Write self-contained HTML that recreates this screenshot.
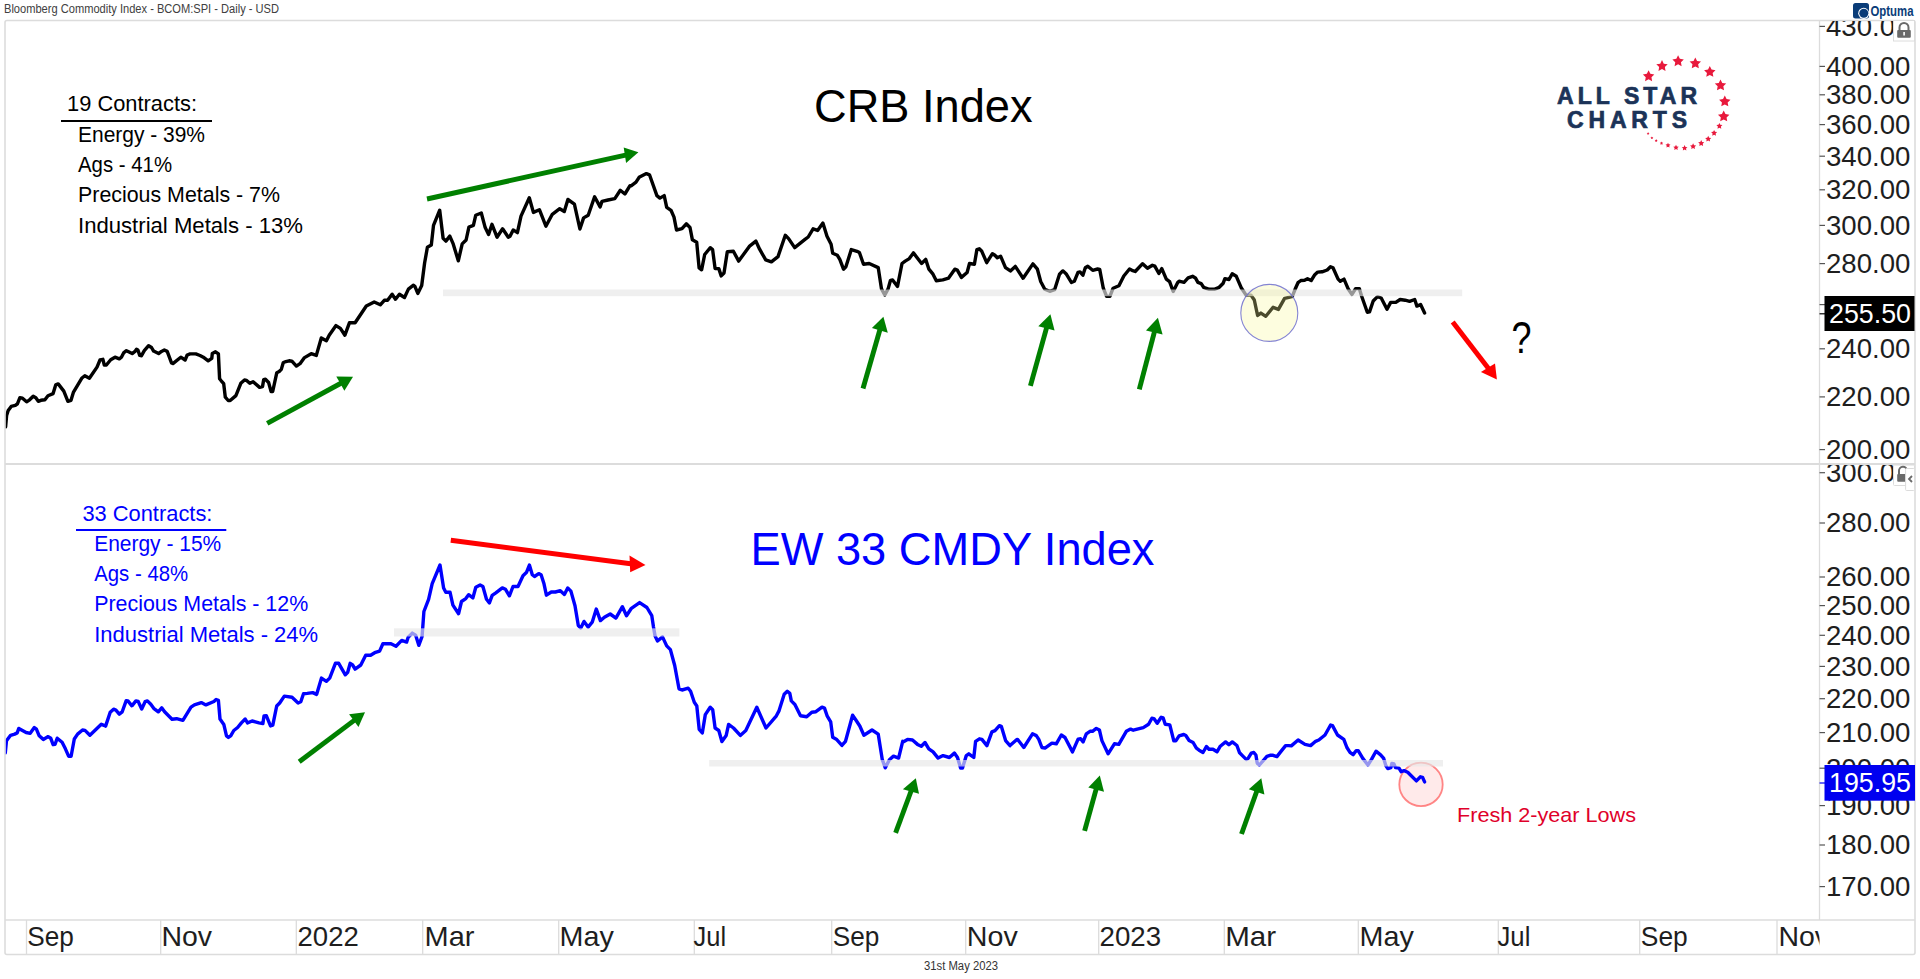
<!DOCTYPE html>
<html><head><meta charset="utf-8"><title>CRB vs EW 33 CMDY</title>
<style>
html,body{margin:0;padding:0;background:#fff;width:1920px;height:979px;overflow:hidden;}
svg text{font-family:"Liberation Sans", sans-serif;}
</style></head><body>
<svg width="1920" height="979" viewBox="0 0 1920 979" style="position:absolute;left:0;top:0;font-family:"Liberation Sans", sans-serif">
<rect width="1920" height="979" fill="#fff"/>
<text x="4" y="13" font-size="12" fill="#404040" textLength="275" lengthAdjust="spacingAndGlyphs">Bloomberg Commodity Index - BCOM:SPI - Daily - USD</text>
<rect x="5" y="20.5" width="1910" height="934" rx="2" fill="none" stroke="#dcdcdc" stroke-width="1.6"/>
<line x1="1819.5" y1="20" x2="1819.5" y2="920" stroke="#dcdcdc" stroke-width="1.3"/>
<line x1="5" y1="464" x2="1915" y2="464" stroke="#dcdcdc" stroke-width="2"/>
<line x1="5" y1="920" x2="1915" y2="920" stroke="#dcdcdc" stroke-width="1.6"/>
<line x1="26.5" y1="920" x2="26.5" y2="954" stroke="#dcdcdc" stroke-width="1.3"/>
<line x1="160.7" y1="920" x2="160.7" y2="954" stroke="#dcdcdc" stroke-width="1.3"/>
<line x1="296.3" y1="920" x2="296.3" y2="954" stroke="#dcdcdc" stroke-width="1.3"/>
<line x1="422.7" y1="920" x2="422.7" y2="954" stroke="#dcdcdc" stroke-width="1.3"/>
<line x1="558.7" y1="920" x2="558.7" y2="954" stroke="#dcdcdc" stroke-width="1.3"/>
<line x1="694.3" y1="920" x2="694.3" y2="954" stroke="#dcdcdc" stroke-width="1.3"/>
<line x1="831.7" y1="920" x2="831.7" y2="954" stroke="#dcdcdc" stroke-width="1.3"/>
<line x1="965.7" y1="920" x2="965.7" y2="954" stroke="#dcdcdc" stroke-width="1.3"/>
<line x1="1098.7" y1="920" x2="1098.7" y2="954" stroke="#dcdcdc" stroke-width="1.3"/>
<line x1="1224.3" y1="920" x2="1224.3" y2="954" stroke="#dcdcdc" stroke-width="1.3"/>
<line x1="1358.3" y1="920" x2="1358.3" y2="954" stroke="#dcdcdc" stroke-width="1.3"/>
<line x1="1498.3" y1="920" x2="1498.3" y2="954" stroke="#dcdcdc" stroke-width="1.3"/>
<line x1="1639.7" y1="920" x2="1639.7" y2="954" stroke="#dcdcdc" stroke-width="1.3"/>
<line x1="1777" y1="920" x2="1777" y2="954" stroke="#dcdcdc" stroke-width="1.3"/>
<svg x="0" y="920" width="1819.5" height="40" overflow="hidden"><g>
<text x="27.2" y="26.2" font-size="27.2" fill="#1e1e1e" textLength="46.6" lengthAdjust="spacingAndGlyphs">Sep</text>
<text x="161.5" y="26.2" font-size="27.2" fill="#1e1e1e" textLength="50.6" lengthAdjust="spacingAndGlyphs">Nov</text>
<text x="297.5" y="26.2" font-size="27.2" fill="#1e1e1e" textLength="61.300000000000004" lengthAdjust="spacingAndGlyphs">2022</text>
<text x="424.5" y="26.2" font-size="27.2" fill="#1e1e1e" textLength="49.9" lengthAdjust="spacingAndGlyphs">Mar</text>
<text x="559.5" y="26.2" font-size="27.2" fill="#1e1e1e" textLength="54.300000000000004" lengthAdjust="spacingAndGlyphs">May</text>
<text x="693.5" y="26.2" font-size="27.2" fill="#1e1e1e" textLength="32.6" lengthAdjust="spacingAndGlyphs">Jul</text>
<text x="832.8" y="26.2" font-size="27.2" fill="#1e1e1e" textLength="46.6" lengthAdjust="spacingAndGlyphs">Sep</text>
<text x="966.8" y="26.2" font-size="27.2" fill="#1e1e1e" textLength="50.9" lengthAdjust="spacingAndGlyphs">Nov</text>
<text x="1099.5" y="26.2" font-size="27.2" fill="#1e1e1e" textLength="61.6" lengthAdjust="spacingAndGlyphs">2023</text>
<text x="1225.2" y="26.2" font-size="27.2" fill="#1e1e1e" textLength="50.9" lengthAdjust="spacingAndGlyphs">Mar</text>
<text x="1359.5" y="26.2" font-size="27.2" fill="#1e1e1e" textLength="54.300000000000004" lengthAdjust="spacingAndGlyphs">May</text>
<text x="1497.5" y="26.2" font-size="27.2" fill="#1e1e1e" textLength="32.9" lengthAdjust="spacingAndGlyphs">Jul</text>
<text x="1640.8" y="26.2" font-size="27.2" fill="#1e1e1e" textLength="46.9" lengthAdjust="spacingAndGlyphs">Sep</text>
<text x="1778.5" y="26.2" font-size="27.2" fill="#1e1e1e" textLength="50.6" lengthAdjust="spacingAndGlyphs">Nov</text>
</g></svg>
<text x="924" y="970" font-size="12" fill="#333" textLength="74" lengthAdjust="spacingAndGlyphs">31st May 2023</text>
<svg x="1819" y="21" width="96" height="442" overflow="hidden">
<line x1="0.5" y1="5.4" x2="6" y2="5.4" stroke="#555" stroke-width="1.2"/>
<text x="7" y="14.8" font-size="27.6" fill="#1e1e1e">430.00</text>
<line x1="0.5" y1="45.4" x2="6" y2="45.4" stroke="#555" stroke-width="1.2"/>
<text x="7" y="54.8" font-size="27.6" fill="#1e1e1e">400.00</text>
<line x1="0.5" y1="73.8" x2="6" y2="73.8" stroke="#555" stroke-width="1.2"/>
<text x="7" y="83.2" font-size="27.6" fill="#1e1e1e">380.00</text>
<line x1="0.5" y1="103.6" x2="6" y2="103.6" stroke="#555" stroke-width="1.2"/>
<text x="7" y="113.0" font-size="27.6" fill="#1e1e1e">360.00</text>
<line x1="0.5" y1="135.2" x2="6" y2="135.2" stroke="#555" stroke-width="1.2"/>
<text x="7" y="144.6" font-size="27.6" fill="#1e1e1e">340.00</text>
<line x1="0.5" y1="168.8" x2="6" y2="168.8" stroke="#555" stroke-width="1.2"/>
<text x="7" y="178.2" font-size="27.6" fill="#1e1e1e">320.00</text>
<line x1="0.5" y1="204.4" x2="6" y2="204.4" stroke="#555" stroke-width="1.2"/>
<text x="7" y="213.8" font-size="27.6" fill="#1e1e1e">300.00</text>
<line x1="0.5" y1="242.6" x2="6" y2="242.6" stroke="#555" stroke-width="1.2"/>
<text x="7" y="252.0" font-size="27.6" fill="#1e1e1e">280.00</text>
<line x1="0.5" y1="283.6" x2="6" y2="283.6" stroke="#555" stroke-width="1.2"/>
<line x1="0.5" y1="327.8" x2="6" y2="327.8" stroke="#555" stroke-width="1.2"/>
<text x="7" y="337.2" font-size="27.6" fill="#1e1e1e">240.00</text>
<line x1="0.5" y1="375.9" x2="6" y2="375.9" stroke="#555" stroke-width="1.2"/>
<text x="7" y="385.3" font-size="27.6" fill="#1e1e1e">220.00</text>
<line x1="0.5" y1="428.6" x2="6" y2="428.6" stroke="#555" stroke-width="1.2"/>
<text x="7" y="438.0" font-size="27.6" fill="#1e1e1e">200.00</text>
</svg>
<svg x="1819" y="465" width="96" height="454" overflow="hidden">
<line x1="0.5" y1="7.7" x2="6" y2="7.7" stroke="#555" stroke-width="1.2"/>
<text x="7" y="17.1" font-size="27.6" fill="#1e1e1e">300.00</text>
<line x1="0.5" y1="58.0" x2="6" y2="58.0" stroke="#555" stroke-width="1.2"/>
<text x="7" y="67.4" font-size="27.6" fill="#1e1e1e">280.00</text>
<line x1="0.5" y1="112.0" x2="6" y2="112.0" stroke="#555" stroke-width="1.2"/>
<text x="7" y="121.4" font-size="27.6" fill="#1e1e1e">260.00</text>
<line x1="0.5" y1="140.6" x2="6" y2="140.6" stroke="#555" stroke-width="1.2"/>
<text x="7" y="150.0" font-size="27.6" fill="#1e1e1e">250.00</text>
<line x1="0.5" y1="170.3" x2="6" y2="170.3" stroke="#555" stroke-width="1.2"/>
<text x="7" y="179.7" font-size="27.6" fill="#1e1e1e">240.00</text>
<line x1="0.5" y1="201.4" x2="6" y2="201.4" stroke="#555" stroke-width="1.2"/>
<text x="7" y="210.8" font-size="27.6" fill="#1e1e1e">230.00</text>
<line x1="0.5" y1="233.7" x2="6" y2="233.7" stroke="#555" stroke-width="1.2"/>
<text x="7" y="243.1" font-size="27.6" fill="#1e1e1e">220.00</text>
<line x1="0.5" y1="267.6" x2="6" y2="267.6" stroke="#555" stroke-width="1.2"/>
<text x="7" y="277.0" font-size="27.6" fill="#1e1e1e">210.00</text>
<line x1="0.5" y1="303.2" x2="6" y2="303.2" stroke="#555" stroke-width="1.2"/>
<text x="7" y="312.6" font-size="27.6" fill="#1e1e1e">200.00</text>
<line x1="0.5" y1="340.6" x2="6" y2="340.6" stroke="#555" stroke-width="1.2"/>
<text x="7" y="350.0" font-size="27.6" fill="#1e1e1e">190.00</text>
<line x1="0.5" y1="380.0" x2="6" y2="380.0" stroke="#555" stroke-width="1.2"/>
<text x="7" y="389.4" font-size="27.6" fill="#1e1e1e">180.00</text>
<line x1="0.5" y1="421.6" x2="6" y2="421.6" stroke="#555" stroke-width="1.2"/>
<text x="7" y="431.0" font-size="27.6" fill="#1e1e1e">170.00</text>
</svg>
<rect x="1824.5" y="296" width="90" height="35" fill="#000"/>
<line x1="1819.5" y1="313.8" x2="1825" y2="313.8" stroke="#000" stroke-width="1.2"/>
<text x="1829" y="323" font-size="26.8" fill="#fff">255.50</text>
<rect x="1824.5" y="765" width="90.5" height="35.7" fill="#0000f0"/>
<line x1="1819.5" y1="783" x2="1825" y2="783" stroke="#0000f0" stroke-width="1.2"/>
<text x="1829" y="792.2" font-size="26.8" fill="#fff">195.95</text>
<rect x="1893.5" y="20.5" width="21" height="20.5" fill="#fff" stroke="#dcdcdc" stroke-width="1"/>
<path d="M1899.5,30 v-2.5 a4.5,4.5 0 0 1 9,0 v2.5" fill="none" stroke="#6a6a6a" stroke-width="2"/>
<rect x="1897.2" y="30" width="13.6" height="7.8" rx="1" fill="#6a6a6a"/>
<rect x="1903.3" y="32" width="1.6" height="3.5" fill="#fff"/>
<rect x="1893.5" y="465" width="21" height="20.5" rx="1" fill="#fff" stroke="#dcdcdc" stroke-width="1"/>
<path d="M1899,474 v-3 a4,4 0 0 1 8,-0.5" fill="none" stroke="#6a6a6a" stroke-width="2"/>
<rect x="1897.2" y="474" width="9" height="7.8" rx="1" fill="#6a6a6a"/>
<rect x="1905.6" y="468.5" width="9" height="22" rx="1" fill="#fff" stroke="#dcdcdc" stroke-width="1"/>
<path d="M1912,476 l-3,3 l3,3" fill="none" stroke="#6a6a6a" stroke-width="1.8"/>
<rect x="1853" y="3" width="16" height="15.6" rx="2.5" fill="#0a3c78"/>
<circle cx="1863.8" cy="13.3" r="5.6" fill="#fff"/>
<circle cx="1863.8" cy="13.3" r="4.5" fill="#0a3c78"/>
<path d="M1869,13.3 A5.6,5.6 0 0 0 1866,8.2 L1869,8.2 Z" fill="#0a3c78"/>
<text x="1870.5" y="16" font-size="15" font-weight="bold" fill="#0a3c78" textLength="43" lengthAdjust="spacingAndGlyphs">Optuma</text>
<defs><clipPath id="cp"><rect x="5.8" y="21" width="1813.2" height="898"/></clipPath></defs>
<g clip-path="url(#cp)">
<path d="M5.6,426.8 L6.6,415.6 L8.2,410.5 L11.2,406.4 L15.3,405.4 L17.4,403.8 L19.9,397.7 L22.5,398.2 L26.6,401.8 L29.6,399.8 L33.2,396.2 L35.8,397.7 L38.3,401.3 L40.9,400.3 L44.9,399.8 L48.0,395.7 L53.1,393.6 L55.7,384.9 L58.2,383.9 L63.8,391.1 L67.9,401.3 L71.0,400.3 L73.5,392.1 L81.7,378.3 L84.8,375.8 L89.4,378.3 L97.0,367.1 L100.0,360.0 L102.9,359.3 L104.3,365.0 L106.4,365.0 L110.7,359.7 L115.0,357.2 L119.3,358.9 L121.4,357.2 L123.6,352.9 L126.4,350.7 L128.6,351.8 L132.2,353.6 L135.0,351.4 L136.5,349.3 L137.9,350.0 L139.7,355.4 L141.5,355.7 L144.3,350.7 L148.6,345.7 L151.5,347.5 L153.6,351.1 L158.6,353.6 L161.5,351.4 L164.3,350.0 L167.2,351.4 L171.5,362.9 L172.9,363.6 L180.8,357.2 L185.1,360.0 L187.2,355.0 L190.1,353.9 L195.8,353.9 L200.0,355.5 L203.3,357.2 L208.2,360.8 L211.8,358.4 L212.3,353.5 L215.5,351.8 L218.4,353.9 L219.6,378.8 L221.2,380.8 L223.7,383.7 L225.3,397.2 L228.2,400.5 L230.2,400.5 L235.9,395.6 L240.8,383.3 L244.5,380.0 L246.6,380.4 L249.8,383.3 L253.1,381.7 L259.6,387.4 L262.5,386.6 L263.7,379.6 L265.4,379.2 L268.6,382.5 L271.1,391.5 L272.7,391.5 L276.8,372.7 L279.2,371.5 L281.3,369.4 L283.3,362.5 L285.8,361.7 L289.1,360.8 L291.9,361.2 L296.4,366.1 L300.0,363.7 L304.5,357.6 L311.2,353.7 L316.3,355.4 L321.3,338.0 L326.4,340.8 L329.2,335.2 L336.0,325.6 L340.4,328.4 L344.9,335.2 L349.4,322.8 L355.1,322.8 L366.3,306.0 L374.2,302.0 L380.3,304.8 L384.3,300.3 L387.6,300.3 L392.1,294.2 L395.5,299.2 L399.4,294.2 L404.5,297.5 L408.4,289.1 L413.5,285.2 L415.0,286.6 L417.8,293.4 L421.7,285.5 L424.6,263.0 L427.4,247.3 L431.3,245.1 L433.5,225.4 L439.7,210.2 L443.1,238.3 L445.9,241.1 L449.8,236.1 L453.2,243.9 L458.3,260.8 L462.2,243.9 L466.1,240.0 L468.9,227.1 L473.4,225.4 L475.7,215.3 L481.3,213.0 L485.2,227.6 L488.6,234.4 L492.0,224.3 L497.0,237.2 L502.6,228.8 L508.3,237.2 L510.0,236.3 L513.2,229.9 L517.4,232.6 L521.0,216.1 L529.3,197.7 L533.4,212.4 L539.4,209.7 L545.9,226.2 L552.3,214.3 L559.7,208.7 L564.3,211.5 L567.9,199.5 L574.4,204.1 L579.9,229.0 L583.6,217.9 L588.2,215.2 L594.6,196.8 L600.1,206.9 L602.0,201.4 L608.0,200.0 L614.8,198.6 L620.3,190.3 L624.9,194.0 L630.0,185.7 L631.1,185.8 L636.0,182.2 L639.1,177.3 L646.4,173.6 L649.5,174.8 L656.9,195.6 L659.9,198.1 L664.2,195.6 L666.7,207.3 L671.0,210.3 L674.0,217.1 L676.5,230.0 L682.0,228.7 L686.3,223.8 L690.0,227.5 L692.4,239.8 L696.7,242.2 L699.1,267.9 L701.6,269.8 L704.7,254.5 L710.2,247.7 L712.6,249.6 L715.1,268.6 L718.8,268.6 L721.2,275.9 L724.0,273.0 L727.3,251.7 L733.4,251.3 L738.7,261.1 L749.3,246.4 L755.9,241.1 L759.6,249.2 L765.7,259.9 L771.4,261.9 L778.0,256.6 L785.3,235.3 L788.6,238.6 L794.7,247.6 L805.0,239.4 L808.2,237.0 L813.1,228.8 L817.6,230.4 L822.9,223.1 L827.0,236.2 L831.1,244.3 L832.7,253.3 L837.4,255.3 L839.8,259.4 L843.5,269.2 L845.9,266.8 L851.3,249.6 L857.0,251.3 L859.4,252.5 L863.5,264.3 L869.2,263.5 L878.2,267.6 L881.5,288.9 L884.8,295.0 L888.1,288.9 L890.5,280.3 L892.6,279.9 L897.5,286.4 L902.0,263.5 L905.2,261.1 L909.3,258.6 L913.4,252.9 L921.6,263.5 L925.7,259.4 L928.9,269.2 L933.0,274.2 L936.3,280.7 L942.8,279.9 L948.6,278.2 L949.3,277.0 L954.8,269.2 L957.3,270.1 L961.4,277.4 L967.1,272.5 L969.5,263.5 L974.4,264.3 L976.9,249.6 L979.3,248.8 L981.8,251.3 L986.7,262.7 L992.4,253.7 L994.9,255.3 L997.3,257.8 L1000.6,256.2 L1005.5,267.6 L1010.4,270.9 L1015.3,266.4 L1023.1,278.2 L1032.9,263.9 L1037.4,269.2 L1040.7,281.5 L1044.8,289.3 L1049.7,291.3 L1054.6,289.7 L1059.5,274.2 L1062.7,270.9 L1063.3,271.1 L1066.5,274.3 L1071.4,282.5 L1074.3,281.3 L1078.0,272.3 L1080.0,271.9 L1082.9,275.2 L1085.3,267.8 L1087.8,266.2 L1092.7,270.3 L1097.6,269.0 L1099.7,269.4 L1103.3,288.2 L1106.6,296.4 L1109.9,296.4 L1113.1,288.2 L1118.9,285.8 L1123.8,276.0 L1129.5,269.0 L1132.0,270.3 L1135.2,271.5 L1142.6,263.7 L1147.5,268.2 L1152.4,265.3 L1154.8,266.2 L1158.9,273.5 L1161.8,268.6 L1166.3,279.2 L1169.6,281.7 L1173.2,291.5 L1177.7,282.5 L1179.1,281.2 L1184.0,282.4 L1188.1,277.9 L1192.6,276.3 L1195.4,277.9 L1197.9,282.4 L1201.2,283.6 L1203.6,287.3 L1209.3,289.3 L1214.2,289.3 L1219.2,287.3 L1223.2,283.2 L1224.9,278.7 L1229.0,279.5 L1232.2,273.8 L1236.3,276.3 L1241.2,287.7 L1246.1,295.1 L1251.0,295.1 L1254.3,300.0 L1257.6,315.5 L1260.9,313.1 L1265.8,316.3 L1273.1,307.3 L1278.4,309.4 L1284.6,298.3 L1291.9,296.7 L1292.2,296.6 L1295.1,289.3 L1298.0,282.7 L1300.9,280.5 L1304.6,280.2 L1307.5,278.7 L1311.2,280.5 L1314.8,274.7 L1317.7,272.1 L1322.1,271.8 L1327.2,270.0 L1330.5,266.7 L1333.0,267.8 L1338.1,279.1 L1340.3,281.3 L1344.0,279.1 L1348.4,289.3 L1352.0,294.4 L1355.6,288.6 L1359.3,288.6 L1361.5,295.8 L1367.3,312.3 L1369.5,311.9 L1373.2,301.0 L1377.5,296.6 L1381.2,298.0 L1387.0,309.3 L1390.7,302.4 L1395.8,302.4 L1400.1,299.5 L1405.2,300.2 L1409.6,301.3 L1414.7,299.5 L1416.9,306.1 L1420.6,304.6 L1424.6,313.0" fill="none" stroke="#000" stroke-width="3.4" stroke-linejoin="round" stroke-linecap="round"/>
<rect x="443" y="289.5" width="1019.2" height="6.7" fill="rgba(230,230,230,0.65)"/>
<circle cx="1269.3" cy="312.9" r="28.5" fill="rgba(250,250,150,0.3)" stroke="rgba(110,110,205,0.85)" stroke-width="1.1"/>
<circle cx="1421" cy="784.4" r="21.7" fill="rgba(255,150,150,0.2)" stroke="rgba(255,80,80,0.68)" stroke-width="1.8"/>
<path d="M5.3,752.9 L6.5,740.7 L10.6,735.3 L14.7,734.1 L17.2,732.9 L18.8,728.4 L26.1,732.5 L30.2,733.3 L34.3,727.6 L36.4,729.2 L39.2,735.8 L43.3,739.4 L48.2,736.6 L50.7,738.2 L53.1,744.7 L55.1,744.3 L57.2,738.2 L62.1,742.3 L65.4,748.8 L68.6,756.2 L71.1,756.2 L74.3,739.0 L77.6,734.1 L82.5,730.0 L85.0,730.4 L89.9,735.3 L101.3,724.3 L105.4,725.9 L105.6,726.1 L110.2,712.3 L113.6,709.2 L115.9,710.1 L119.3,714.1 L122.2,711.8 L126.2,700.6 L127.9,700.9 L131.9,705.8 L135.9,700.9 L138.2,701.5 L141.7,708.9 L145.1,701.7 L147.4,700.9 L150.8,704.3 L153.7,708.3 L158.3,711.8 L161.7,707.8 L164.6,711.8 L172.0,719.2 L176.6,718.7 L182.9,720.4 L191.0,707.2 L194.4,704.9 L201.3,702.6 L205.9,704.9 L213.9,701.5 L216.1,699.5 L218.4,700.3 L220.0,719.0 L223.8,724.4 L226.5,735.9 L228.4,737.4 L230.7,735.9 L233.8,730.5 L237.6,727.5 L241.4,722.9 L245.2,719.0 L247.5,722.9 L252.1,721.0 L259.0,722.9 L262.9,723.6 L264.0,716.0 L266.3,715.6 L270.5,725.9 L272.8,725.2 L276.7,706.0 L279.7,703.0 L284.3,696.1 L292.0,697.2 L298.1,703.0 L300.8,701.8 L303.5,693.8 L307.3,693.4 L312.7,692.6 L316.6,694.4 L321.5,678.1 L326.4,681.3 L329.7,678.1 L335.4,663.3 L338.7,663.3 L345.3,674.8 L347.7,672.3 L350.2,663.3 L352.6,665.0 L355.1,669.1 L360.8,665.0 L365.7,655.2 L370.6,655.2 L374.7,652.7 L379.6,651.1 L382.9,643.7 L391.0,643.7 L396.0,646.2 L401.7,640.4 L406.6,642.1 L408.2,637.2 L412.3,633.1 L415.6,635.1 L418.8,645.3 L422.1,636.4 L423.9,611.5 L428.6,599.3 L432.2,583.6 L434.3,578.6 L440.0,565.0 L443.6,587.9 L445.8,592.2 L450.0,592.2 L452.9,605.1 L458.6,613.7 L461.5,601.5 L465.8,598.6 L468.6,594.7 L472.9,597.9 L475.8,587.2 L480.1,585.0 L482.9,586.5 L486.5,599.3 L489.4,602.9 L492.2,595.4 L495.8,592.9 L502.3,587.9 L505.5,589.3 L509.4,595.8 L513.0,586.5 L518.0,586.5 L523.0,575.7 L526.6,572.2 L529.4,565.0 L532.3,574.7 L534.5,576.5 L538.7,573.6 L541.1,574.8 L544.0,583.8 L546.4,595.2 L551.3,592.0 L555.4,592.0 L560.3,590.7 L564.4,594.4 L567.7,587.9 L570.9,591.1 L575.0,605.8 L578.3,625.5 L580.8,627.9 L584.0,621.4 L588.1,627.1 L592.2,622.2 L596.3,609.1 L600.4,620.6 L604.4,617.3 L610.2,614.0 L615.9,618.1 L622.4,606.7 L626.5,615.7 L631.4,608.3 L639.6,602.6 L646.9,607.5 L651.8,615.7 L653.5,627.1 L655.1,636.1 L657.5,641.0 L662.5,636.9 L666.7,645.9 L670.4,649.6 L674.7,665.5 L679.0,688.8 L682.1,690.0 L688.2,688.2 L690.6,691.3 L694.3,702.3 L696.8,706.0 L699.2,729.3 L702.3,732.9 L705.3,714.6 L710.2,707.2 L712.7,709.7 L715.1,728.0 L718.8,730.5 L721.9,741.5 L726.2,735.4 L728.6,724.4 L733.5,728.0 L740.3,735.4 L745.8,730.5 L756.8,707.2 L766.0,728.0 L776.4,715.8 L779.1,710.6 L784.2,694.3 L787.3,691.2 L789.8,693.3 L791.3,700.9 L794.9,704.5 L800.5,715.8 L806.7,716.8 L811.8,712.2 L815.9,711.7 L822.0,707.1 L824.5,708.1 L827.1,715.8 L830.7,721.9 L832.7,737.2 L836.3,739.2 L841.9,745.4 L845.5,741.3 L852.6,715.2 L855.7,719.8 L859.8,726.0 L863.9,735.2 L872.0,730.0 L878.2,734.1 L882.3,759.7 L885.3,767.8 L889.4,759.7 L893.5,756.1 L898.6,758.1 L902.7,741.3 L903.1,741.9 L907.5,739.4 L912.5,740.0 L917.5,744.4 L921.3,746.3 L925.0,742.5 L928.8,748.8 L933.1,751.9 L938.1,758.1 L943.1,755.6 L949.4,757.5 L954.4,753.1 L957.5,757.5 L960.6,768.1 L962.5,768.1 L966.3,755.6 L968.8,753.8 L973.8,757.5 L975.6,741.3 L979.4,738.8 L981.9,739.4 L986.9,745.6 L991.9,731.9 L995.0,730.6 L999.4,725.6 L1001.3,726.3 L1005.6,740.6 L1010.0,745.6 L1016.9,739.4 L1017.5,739.4 L1020.0,742.5 L1023.8,747.5 L1032.5,733.8 L1036.3,735.6 L1038.8,739.4 L1041.9,747.5 L1045.0,748.1 L1051.9,743.1 L1056.3,743.8 L1061.3,735.0 L1065.0,737.5 L1072.5,751.9 L1078.1,739.1 L1080.6,738.8 L1083.1,741.9 L1086.3,733.8 L1090.0,731.3 L1092.5,731.3 L1096.3,728.4 L1099.4,730.0 L1101.9,740.6 L1108.1,753.8 L1114.4,743.8 L1118.8,744.4 L1126.3,731.3 L1130.6,729.1 L1133.3,730.2 L1143.3,727.6 L1148.6,724.3 L1151.9,718.3 L1153.9,718.6 L1157.2,723.3 L1161.2,717.3 L1163.2,717.9 L1165.2,724.3 L1169.8,724.9 L1173.8,740.9 L1175.8,740.9 L1179.1,735.9 L1183.8,734.5 L1185.8,735.5 L1189.1,740.5 L1193.1,742.5 L1196.4,748.2 L1199.1,750.2 L1203.0,752.5 L1206.4,746.5 L1209.0,749.2 L1213.0,749.2 L1217.0,751.8 L1220.3,746.2 L1225.6,741.9 L1228.9,744.8 L1232.3,741.9 L1236.9,745.5 L1239.6,752.8 L1242.9,756.1 L1246.2,759.4 L1248.1,758.4 L1251.3,753.1 L1253.8,752.5 L1255.9,755.0 L1257.2,763.1 L1259.4,765.0 L1266.9,756.3 L1270.0,755.3 L1273.1,755.3 L1276.9,756.6 L1280.6,751.9 L1285.6,745.6 L1288.8,745.6 L1291.3,745.9 L1298.1,740.0 L1305.0,744.4 L1310.6,745.6 L1315.6,741.3 L1318.8,740.0 L1325.0,735.0 L1330.6,725.0 L1332.5,725.6 L1337.5,735.0 L1343.8,739.4 L1346.9,747.5 L1350.0,752.3 L1353.1,754.6 L1356.1,750.7 L1358.2,750.7 L1362.8,758.4 L1367.9,765.0 L1371.5,759.4 L1376.0,751.2 L1380.6,754.8 L1383.7,758.4 L1385.8,765.5 L1387.8,768.6 L1390.9,767.6 L1391.9,763.5 L1393.9,764.0 L1395.5,767.6 L1399.0,768.1 L1401.1,771.7 L1404.1,770.6 L1407.7,772.2 L1416.4,780.9 L1420.5,776.8 L1422.5,777.3 L1424.6,781.9" fill="none" stroke="#0000ff" stroke-width="3.4" stroke-linejoin="round" stroke-linecap="round"/>
<rect x="394" y="628.3" width="285.4" height="8.2" fill="rgba(230,230,230,0.65)"/>
<rect x="709.2" y="760" width="733.8" height="6.5" fill="rgba(230,230,230,0.65)"/>
</g>
<line x1="267.2" y1="423.4" x2="344.1" y2="381.5" stroke="#008000" stroke-width="4.9"/>
<polygon points="353,376.8 336.3,376.4 344.4,390.7" fill="#008000"/>
<line x1="427" y1="199" x2="629.0" y2="154.3" stroke="#008000" stroke-width="4.9"/>
<polygon points="638.4,152.3 623.7,147.4 626.1,162.9" fill="#008000"/>
<line x1="863" y1="388.5" x2="880.9" y2="326.3" stroke="#008000" stroke-width="4.9"/>
<polygon points="883.4,316.8 871.9,328 887.8,332.8" fill="#008000"/>
<line x1="1030.4" y1="385.9" x2="1047.6" y2="324.1" stroke="#008000" stroke-width="4.9"/>
<polygon points="1050.4,314.2 1038.3,326.2 1054.6,330.5" fill="#008000"/>
<line x1="1139.3" y1="389.4" x2="1155.4" y2="328.1" stroke="#008000" stroke-width="4.9"/>
<polygon points="1157.9,317.7 1146,330.5 1162.6,334.5" fill="#008000"/>
<line x1="1452.7" y1="321.9" x2="1490.6" y2="371.3" stroke="#ff0000" stroke-width="4.9"/>
<polygon points="1496.9,379.5 1480.9,372.1 1495,363.6" fill="#ff0000"/>
<line x1="299.2" y1="761.7" x2="357.2" y2="718.1" stroke="#008000" stroke-width="4.9"/>
<polygon points="365,712.3 349.1,714.3 358.5,727" fill="#008000"/>
<line x1="450.8" y1="540.2" x2="634.5" y2="564.2" stroke="#ff0000" stroke-width="4.9"/>
<polygon points="645.5,565 629.5,555.5 630.2,572.3" fill="#ff0000"/>
<line x1="895.6" y1="832.9" x2="912.4" y2="787.5" stroke="#008000" stroke-width="4.9"/>
<polygon points="915.8,778.3 902.9,789.2 919,793.8" fill="#008000"/>
<line x1="1084.6" y1="830.8" x2="1097.2" y2="785.4" stroke="#008000" stroke-width="4.9"/>
<polygon points="1099.8,775.6 1088.3,787.5 1104,791.7" fill="#008000"/>
<line x1="1241.5" y1="834" x2="1258.0" y2="787.8" stroke="#008000" stroke-width="4.9"/>
<polygon points="1261.3,778.3 1248.8,789.2 1264.4,794.4" fill="#008000"/>
<text x="814" y="122.2" font-size="46" fill="#000" textLength="218.5" lengthAdjust="spacingAndGlyphs">CRB Index</text>
<text x="750.5" y="564.6" font-size="46" fill="#0000ff" textLength="404" lengthAdjust="spacingAndGlyphs">EW 33 CMDY Index</text>
<text x="67" y="111" font-size="22" fill="#000" textLength="130" lengthAdjust="spacingAndGlyphs">19 Contracts:</text>
<line x1="61" y1="121" x2="212" y2="121" stroke="#000" stroke-width="1.8"/>
<text x="78" y="142" font-size="22" fill="#000" textLength="127" lengthAdjust="spacingAndGlyphs">Energy - 39%</text>
<text x="78" y="172" font-size="22" fill="#000" textLength="94" lengthAdjust="spacingAndGlyphs">Ags - 41%</text>
<text x="78" y="202" font-size="22" fill="#000" textLength="202" lengthAdjust="spacingAndGlyphs">Precious Metals - 7%</text>
<text x="78" y="232.5" font-size="22" fill="#000" textLength="225" lengthAdjust="spacingAndGlyphs">Industrial Metals - 13%</text>
<text x="82.4" y="520.9" font-size="22" fill="#0000ff" textLength="130" lengthAdjust="spacingAndGlyphs">33 Contracts:</text>
<line x1="76" y1="530" x2="226.3" y2="530" stroke="#0000ff" stroke-width="1.8"/>
<text x="94.2" y="550.8" font-size="22" fill="#0000ff" textLength="127" lengthAdjust="spacingAndGlyphs">Energy - 15%</text>
<text x="94.2" y="581" font-size="22" fill="#0000ff" textLength="94" lengthAdjust="spacingAndGlyphs">Ags - 48%</text>
<text x="94.2" y="611.2" font-size="22" fill="#0000ff" textLength="214" lengthAdjust="spacingAndGlyphs">Precious Metals - 12%</text>
<text x="94.2" y="642.4" font-size="22" fill="#0000ff" textLength="224" lengthAdjust="spacingAndGlyphs">Industrial Metals - 24%</text>
<text x="1511.5" y="353" font-size="45" fill="#000" textLength="20" lengthAdjust="spacingAndGlyphs">?</text>
<text x="1457" y="822" font-size="21" fill="#e0002a" textLength="179" lengthAdjust="spacingAndGlyphs">Fresh 2-year Lows</text>
<text x="1557" y="104.2" font-size="23" font-weight="bold" fill="#1b3358" stroke="#1b3358" stroke-width="0.7" textLength="140" lengthAdjust="spacing">ALL STAR</text>
<text x="1567" y="127.7" font-size="23" font-weight="bold" fill="#1b3358" stroke="#1b3358" stroke-width="0.7" textLength="120" lengthAdjust="spacing">CHARTS</text>
<polygon points="1648.60,70.30 1650.36,73.87 1654.31,74.45 1651.45,77.23 1652.13,81.15 1648.60,79.30 1645.07,81.15 1645.75,77.23 1642.89,74.45 1646.84,73.87" fill="#e8193c"/>
<polygon points="1662.00,60.10 1663.76,63.67 1667.71,64.25 1664.85,67.03 1665.53,70.95 1662.00,69.10 1658.47,70.95 1659.15,67.03 1656.29,64.25 1660.24,63.67" fill="#e8193c"/>
<polygon points="1678.10,55.30 1679.86,58.87 1683.81,59.45 1680.95,62.23 1681.63,66.15 1678.10,64.30 1674.57,66.15 1675.25,62.23 1672.39,59.45 1676.34,58.87" fill="#e8193c"/>
<polygon points="1695.30,57.40 1697.06,60.97 1701.01,61.55 1698.15,64.33 1698.83,68.25 1695.30,66.40 1691.77,68.25 1692.45,64.33 1689.59,61.55 1693.54,60.97" fill="#e8193c"/>
<polygon points="1709.80,66.00 1711.56,69.57 1715.51,70.15 1712.65,72.93 1713.33,76.85 1709.80,75.00 1706.27,76.85 1706.95,72.93 1704.09,70.15 1708.04,69.57" fill="#e8193c"/>
<polygon points="1720.50,79.40 1722.26,82.97 1726.21,83.55 1723.35,86.33 1724.03,90.25 1720.50,88.40 1716.97,90.25 1717.65,86.33 1714.79,83.55 1718.74,82.97" fill="#e8193c"/>
<polygon points="1724.80,95.50 1726.56,99.07 1730.51,99.65 1727.65,102.43 1728.33,106.35 1724.80,104.50 1721.27,106.35 1721.95,102.43 1719.09,99.65 1723.04,99.07" fill="#e8193c"/>
<polygon points="1723.70,110.50 1725.46,114.07 1729.41,114.65 1726.55,117.43 1727.23,121.35 1723.70,119.50 1720.17,121.35 1720.85,117.43 1717.99,114.65 1721.94,114.07" fill="#e8193c"/>
<polygon points="1719.40,122.90 1720.34,124.81 1722.44,125.11 1720.92,126.59 1721.28,128.69 1719.40,127.70 1717.52,128.69 1717.88,126.59 1716.36,125.11 1718.46,124.81" fill="#e8193c"/>
<polygon points="1714.10,129.90 1715.04,131.81 1717.14,132.11 1715.62,133.59 1715.98,135.69 1714.10,134.70 1712.22,135.69 1712.58,133.59 1711.06,132.11 1713.16,131.81" fill="#e8193c"/>
<polygon points="1708.20,135.80 1709.14,137.71 1711.24,138.01 1709.72,139.49 1710.08,141.59 1708.20,140.60 1706.32,141.59 1706.68,139.49 1705.16,138.01 1707.26,137.71" fill="#e8193c"/>
<polygon points="1701.20,140.10 1702.14,142.01 1704.24,142.31 1702.72,143.79 1703.08,145.89 1701.20,144.90 1699.32,145.89 1699.68,143.79 1698.16,142.31 1700.26,142.01" fill="#e8193c"/>
<polygon points="1693.10,143.30 1694.04,145.21 1696.14,145.51 1694.62,146.99 1694.98,149.09 1693.10,148.10 1691.22,149.09 1691.58,146.99 1690.06,145.51 1692.16,145.21" fill="#e8193c"/>
<polygon points="1684.60,145.10 1685.48,146.89 1687.45,147.17 1686.03,148.56 1686.36,150.53 1684.60,149.60 1682.84,150.53 1683.17,148.56 1681.75,147.17 1683.72,146.89" fill="#e8193c"/>
<polygon points="1676.00,144.70 1676.85,146.43 1678.76,146.70 1677.38,148.05 1677.70,149.95 1676.00,149.05 1674.30,149.95 1674.62,148.05 1673.24,146.70 1675.15,146.43" fill="#e8193c"/>
<polygon points="1668.00,142.80 1668.76,144.35 1670.47,144.60 1669.24,145.80 1669.53,147.50 1668.00,146.70 1666.47,147.50 1666.76,145.80 1665.53,144.60 1667.24,144.35" fill="#e8193c"/>
<polygon points="1661.50,141.50 1662.03,142.57 1663.21,142.74 1662.36,143.58 1662.56,144.76 1661.50,144.20 1660.44,144.76 1660.64,143.58 1659.79,142.74 1660.97,142.57" fill="#e8193c"/>
<polygon points="1656.20,139.00 1656.67,139.95 1657.72,140.11 1656.96,140.85 1657.14,141.89 1656.20,141.40 1655.26,141.89 1655.44,140.85 1654.68,140.11 1655.73,139.95" fill="#e8193c"/>
<polygon points="1651.90,136.40 1652.34,137.29 1653.33,137.44 1652.61,138.13 1652.78,139.11 1651.90,138.65 1651.02,139.11 1651.19,138.13 1650.47,137.44 1651.46,137.29" fill="#e8193c"/>
<polygon points="1648.10,132.10 1648.54,132.99 1649.53,133.14 1648.81,133.83 1648.98,134.81 1648.10,134.35 1647.22,134.81 1647.39,133.83 1646.67,133.14 1647.66,132.99" fill="#e8193c"/>
</svg>
</body></html>
